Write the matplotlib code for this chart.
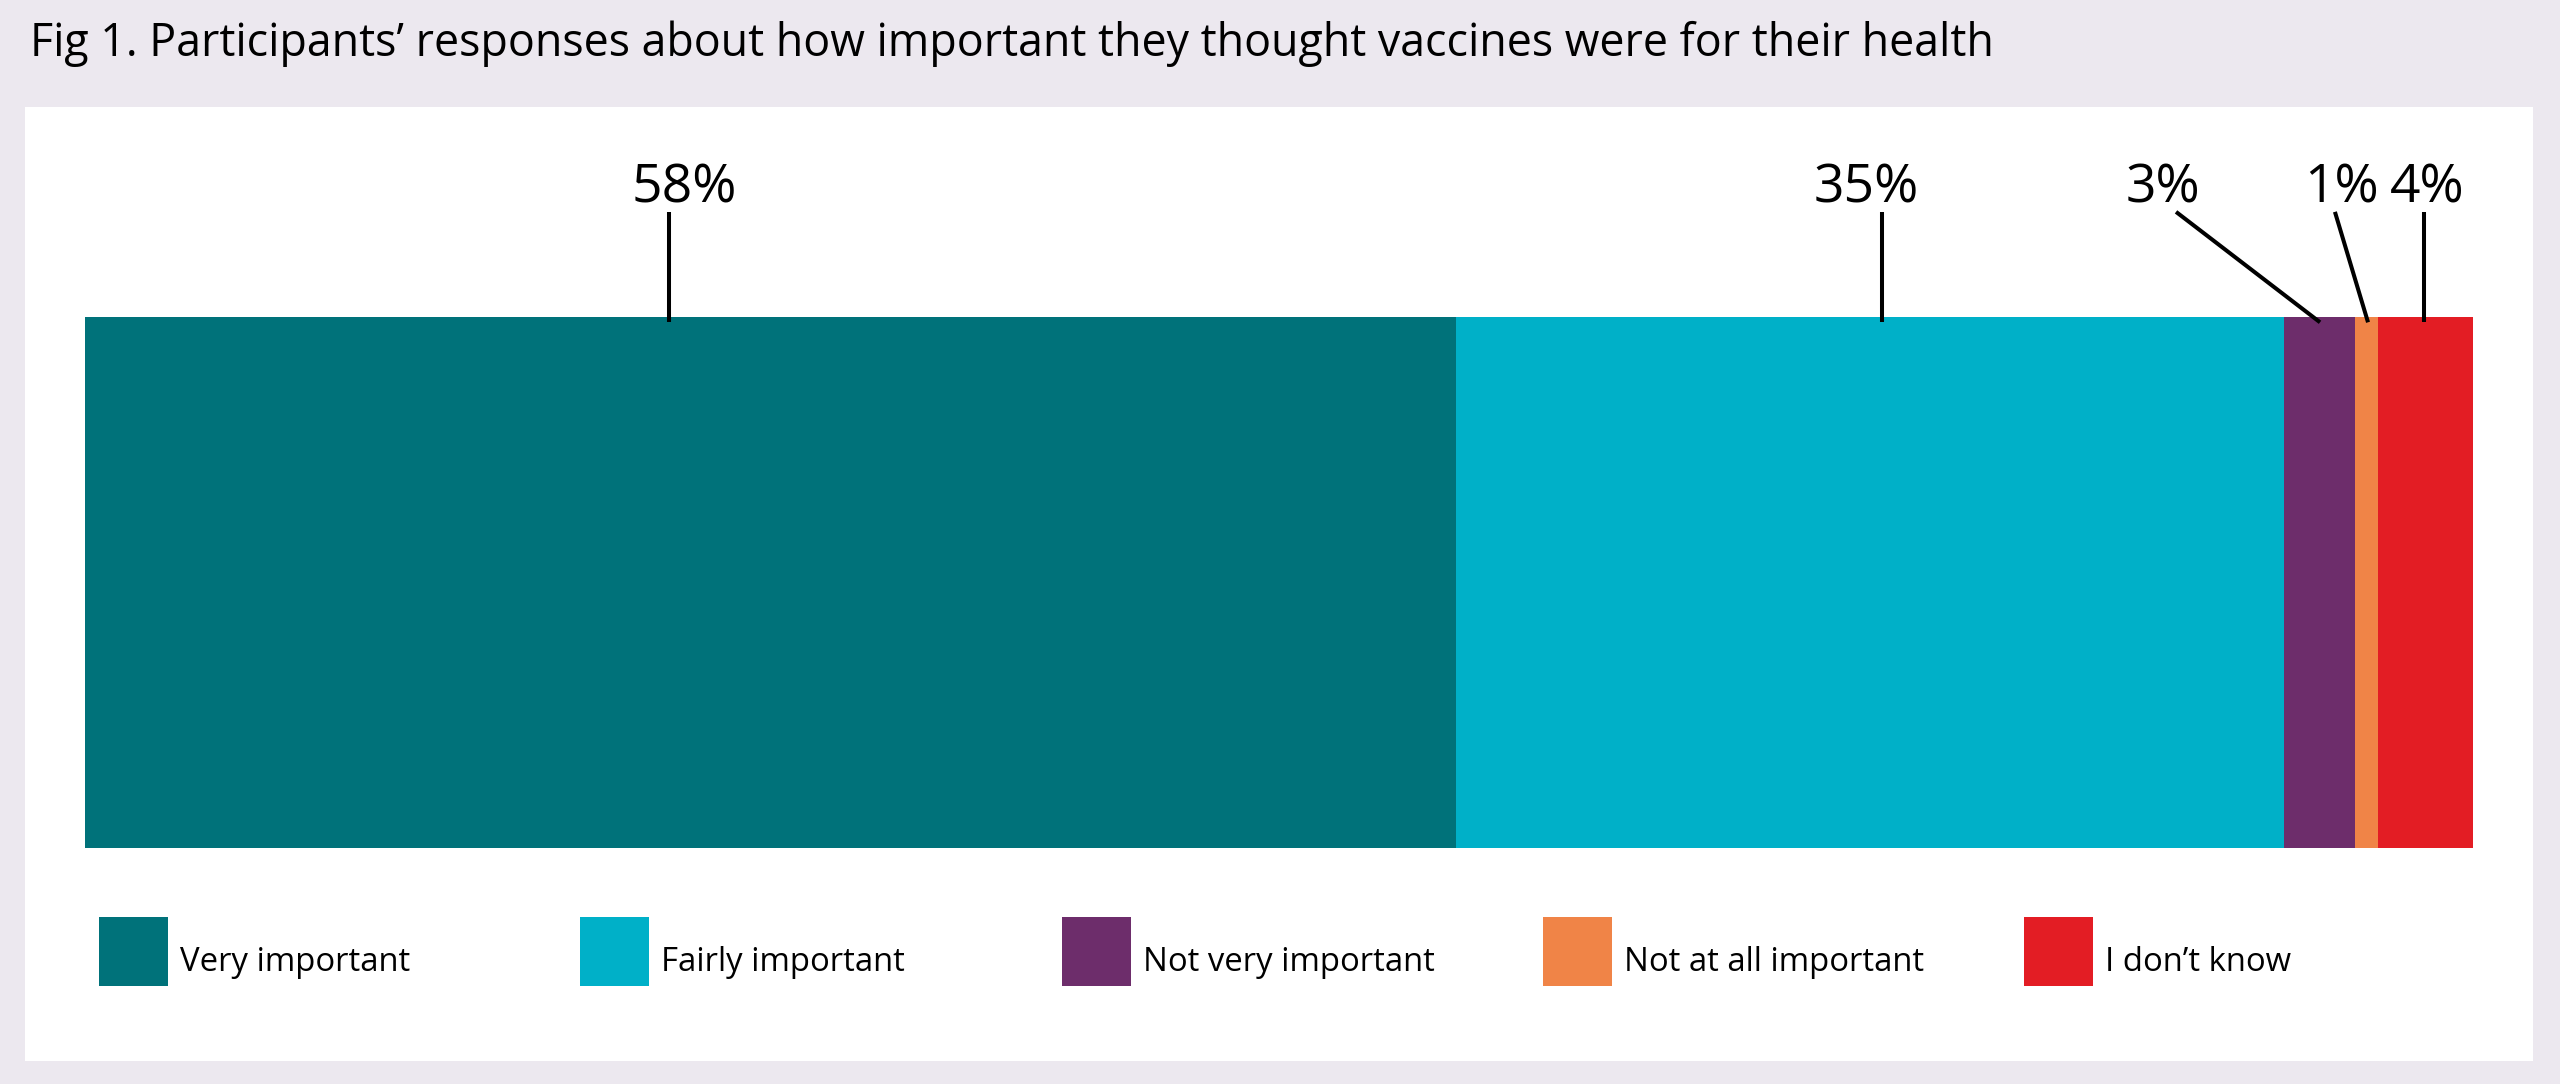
import matplotlib
matplotlib.use("Agg")
import matplotlib.pyplot as plt
from matplotlib.patches import Rectangle

# ---- data ----
categories = ["Very important", "Fairly important", "Not very important",
              "Not at all important", "I don\u2019t know"]
values = [58, 35, 3, 1, 4]
value_labels = ["58%", "35%", "3%", "1%", "4%"]
colors = ["#00727A", "#00B0C8", "#6D2D6B", "#F08447", "#E31D24"]
title = "Fig 1. Participants\u2019 responses about how important they thought vaccines were for their health"

# ---- annotation layout (data units along the bar) ----
label_x = [25.33, 75.33, 87.89, 95.42, 99.05]
line_top_x = [24.70, 76.0, 88.44, 95.16, 98.92]
line_bot_x = [24.70, 76.0, 94.53, 96.56, 98.92]

W, H = 2560, 1084
DPI = 100
plt.rcParams['font.family'] = ['Open Sans', 'DejaVu Sans']

fig = plt.figure(figsize=(W / DPI, H / DPI), dpi=DPI)
fig.patch.set_facecolor("#ECE8EF")

# overlay axes in pixel coordinates
ov = fig.add_axes([0, 0, 1, 1])
ov.set_xlim(0, W)
ov.set_ylim(H, 0)
ov.axis("off")
ov.add_patch(Rectangle((25, 107), 2508, 954, facecolor="white", edgecolor="none", zorder=0))

t = ov.text(30, 56, title, fontsize=38, color="black", va="baseline", ha="left")
fig.canvas.draw()
bb = t.get_window_extent()
t.set_fontsize(38 * 1960 / bb.width)

# legend
for i, (cat, col) in enumerate(zip(categories, colors)):
    x0 = 99 + i * 481.3
    ov.add_patch(Rectangle((x0, 917), 69, 69, facecolor=col, edgecolor="none"))
    ov.text(x0 + 81, 971, cat, fontsize=23.7, color="black", va="baseline", ha="left")

# bar axes
bar_top, bar_bot, bar_left, bar_right = 317, 848, 85, 2473
ax = fig.add_axes([bar_left / W, (H - bar_bot) / H,
                   (bar_right - bar_left) / W, (bar_bot - bar_top) / H])
ax.set_xlim(0, sum(values))
ax.set_ylim(0, 1)
ax.axis("off")
left = 0
for v, col in zip(values, colors):
    ax.barh(0.5, v, left=left, height=1.0, color=col, edgecolor="none")
    left += v

for lx, tx, bx, lab in zip(label_x, line_top_x, line_bot_x, value_labels):
    ax.plot([tx, bx], [1.198, 0.99], color="black", lw=2.9, solid_capstyle="butt",
            clip_on=False)
    ax.text(lx, 1.215, lab, fontsize=38.5, ha="center", va="baseline",
            color="black", clip_on=False)

fig.savefig("out.png", dpi=DPI, facecolor=fig.get_facecolor())
